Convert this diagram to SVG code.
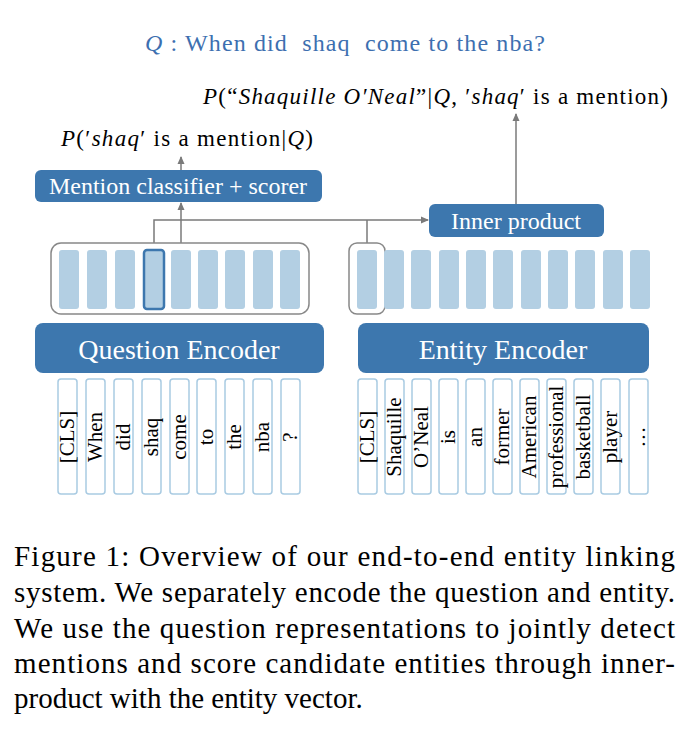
<svg xmlns="http://www.w3.org/2000/svg" width="693" height="735" viewBox="0 0 693 735">
<defs>
<marker id="ar" markerWidth="8" markerHeight="8" refX="7" refY="4" orient="auto" markerUnits="userSpaceOnUse"><path d="M0,0.5 L8,4 L0,7.5 Z" fill="#7a7a7a"/></marker>
<style>
.s{font-family:"Liberation Serif",serif}
.blk{fill:#3d77ae}
.wt{fill:#fff;font-family:"Liberation Serif",serif;text-anchor:middle}
.bar{fill:#b3cfe3}
.tok{fill:#fff;stroke:#a9cbe2;stroke-width:1.5}
.tt{font-family:"Liberation Serif",serif;font-size:21px;text-anchor:middle;fill:#000}
.ln{stroke:#7a7a7a;stroke-width:1.5;fill:none}
.cap{font-family:"Liberation Serif",serif;font-size:29px;fill:#000}
</style>
</defs>
<rect width="693" height="735" fill="#fff"/>
<text class="s" x="145" y="51" font-size="24" fill="#3d6fb0" xml:space="preserve" textLength="400"><tspan font-style="italic">Q</tspan> : When did  shaq  come to the nba?</text>
<text class="s" x="203" y="104" font-size="23" textLength="465"><tspan font-style="italic">P</tspan>(“<tspan font-style="italic">Shaquille O′Neal</tspan>”|<tspan font-style="italic">Q</tspan>, ′<tspan font-style="italic">shaq</tspan>′ is a mention)</text>
<text class="s" x="61" y="146" font-size="23" textLength="252"><tspan font-style="italic">P</tspan>(′<tspan font-style="italic">shaq</tspan>′ is a mention|<tspan font-style="italic">Q</tspan>)</text>
<g id="connectors">
<line class="ln" x1="181" y1="170" x2="181" y2="157" marker-end="url(#ar)"/>
<line class="ln" x1="516" y1="206" x2="516" y2="114" marker-end="url(#ar)"/>
<line class="ln" x1="181" y1="243" x2="181" y2="203" marker-end="url(#ar)"/>
<polyline class="ln" points="154,243 154,220 428,220" marker-end="url(#ar)"/>
<line class="ln" x1="367" y1="243" x2="367" y2="220"/>
</g>
<g id="mention"><rect class="blk" x="35" y="170" width="287" height="32" rx="6"/><text class="wt" x="178" y="194" font-size="24">Mention classifier + scorer</text></g>
<g id="inner"><rect class="blk" x="429" y="204" width="175" height="33" rx="6"/><text class="wt" x="516" y="229" font-size="24">Inner product</text></g>
<g id="qvec">
<rect x="51" y="243" width="258" height="71" rx="10" fill="none" stroke="#888" stroke-width="1.5"/>
<rect class="bar" x="59" y="250" width="20" height="59" rx="3"/>
<rect class="bar" x="87" y="250" width="20" height="59" rx="3"/>
<rect class="bar" x="115" y="250" width="20" height="59" rx="3"/>
<rect class="bar" x="144" y="250" width="20" height="59" rx="3" stroke="#3d77ae" stroke-width="2.5"/>
<rect class="bar" x="171" y="250" width="20" height="59" rx="3"/>
<rect class="bar" x="198" y="250" width="20" height="59" rx="3"/>
<rect class="bar" x="225" y="250" width="20" height="59" rx="3"/>
<rect class="bar" x="253" y="250" width="20" height="59" rx="3"/>
<rect class="bar" x="280" y="250" width="20" height="59" rx="3"/>
</g>
<g id="evec">
<rect x="349" y="243" width="36" height="71" rx="8" fill="none" stroke="#888" stroke-width="1.5"/>
<rect class="bar" x="357" y="250" width="20" height="59" rx="3"/>
<rect class="bar" x="384" y="250" width="20" height="59" rx="3"/>
<rect class="bar" x="411" y="250" width="20" height="59" rx="3"/>
<rect class="bar" x="439" y="250" width="20" height="59" rx="3"/>
<rect class="bar" x="466" y="250" width="20" height="59" rx="3"/>
<rect class="bar" x="493" y="250" width="20" height="59" rx="3"/>
<rect class="bar" x="521" y="250" width="20" height="59" rx="3"/>
<rect class="bar" x="548" y="250" width="20" height="59" rx="3"/>
<rect class="bar" x="575" y="250" width="20" height="59" rx="3"/>
<rect class="bar" x="603" y="250" width="20" height="59" rx="3"/>
<rect class="bar" x="630" y="250" width="20" height="59" rx="3"/>
</g>
<g id="qenc"><rect class="blk" x="35" y="323" width="289" height="50" rx="8"/><text class="wt" x="179" y="359" font-size="28">Question Encoder</text></g>
<g id="eenc"><rect class="blk" x="358" y="323" width="291" height="50" rx="8"/><text class="wt" x="503" y="359" font-size="28">Entity Encoder</text></g>
<g id="qtokens">
<rect class="tok" x="58" y="379" width="19" height="115" rx="3"/><text class="tt" transform="translate(74,437) rotate(-90)">[CLS]</text>
<rect class="tok" x="86" y="379" width="19" height="115" rx="3"/><text class="tt" transform="translate(102,437) rotate(-90)">When</text>
<rect class="tok" x="114" y="379" width="19" height="115" rx="3"/><text class="tt" transform="translate(130,437) rotate(-90)">did</text>
<rect class="tok" x="142" y="379" width="19" height="115" rx="3"/><text class="tt" transform="translate(158,437) rotate(-90)">shaq</text>
<rect class="tok" x="170" y="379" width="19" height="115" rx="3"/><text class="tt" transform="translate(186,437) rotate(-90)">come</text>
<rect class="tok" x="197" y="379" width="19" height="115" rx="3"/><text class="tt" transform="translate(213,437) rotate(-90)">to</text>
<rect class="tok" x="225" y="379" width="19" height="115" rx="3"/><text class="tt" transform="translate(241,437) rotate(-90)">the</text>
<rect class="tok" x="253" y="379" width="19" height="115" rx="3"/><text class="tt" transform="translate(269,437) rotate(-90)">nba</text>
<rect class="tok" x="281" y="379" width="19" height="115" rx="3"/><text class="tt" transform="translate(297,437) rotate(-90)">?</text>
</g>
<g id="etokens">
<rect class="tok" x="358" y="379" width="19" height="115" rx="3"/><text class="tt" transform="translate(374,437) rotate(-90)">[CLS]</text>
<rect class="tok" x="385" y="379" width="19" height="115" rx="3"/><text class="tt" transform="translate(401,437) rotate(-90)">Shaquille</text>
<rect class="tok" x="412" y="379" width="19" height="115" rx="3"/><text class="tt" transform="translate(428,437) rotate(-90)">O’Neal</text>
<rect class="tok" x="439" y="379" width="19" height="115" rx="3"/><text class="tt" transform="translate(455,437) rotate(-90)">is</text>
<rect class="tok" x="466" y="379" width="19" height="115" rx="3"/><text class="tt" transform="translate(482,437) rotate(-90)">an</text>
<rect class="tok" x="493" y="379" width="19" height="115" rx="3"/><text class="tt" transform="translate(509,437) rotate(-90)">former</text>
<rect class="tok" x="520" y="379" width="19" height="115" rx="3"/><text class="tt" transform="translate(536,437) rotate(-90)">American</text>
<rect class="tok" x="547" y="379" width="19" height="115" rx="3"/><text class="tt" transform="translate(563,437) rotate(-90)">professional</text>
<rect class="tok" x="574" y="379" width="19" height="115" rx="3"/><text class="tt" transform="translate(590,437) rotate(-90)">basketball</text>
<rect class="tok" x="601" y="379" width="19" height="115" rx="3"/><text class="tt" transform="translate(617,437) rotate(-90)">player</text>
<rect class="tok" x="629" y="379" width="19" height="115" rx="3"/><text class="tt" transform="translate(645,437) rotate(-90)">…</text>
</g>
<g id="caption">
<text class="cap" x="14" y="566" textLength="661" lengthAdjust="spacing">Figure 1:  Overview of our end-to-end entity linking</text>
<text class="cap" x="14" y="602" textLength="661" lengthAdjust="spacing">system.  We separately encode the question and entity.</text>
<text class="cap" x="14" y="638" textLength="661" lengthAdjust="spacing">We use the question representations to jointly detect</text>
<text class="cap" x="14" y="673" textLength="661" lengthAdjust="spacing">mentions and score candidate entities through inner-</text>
<text class="cap" x="14" y="708">product with the entity vector.</text>
</g>
</svg>
